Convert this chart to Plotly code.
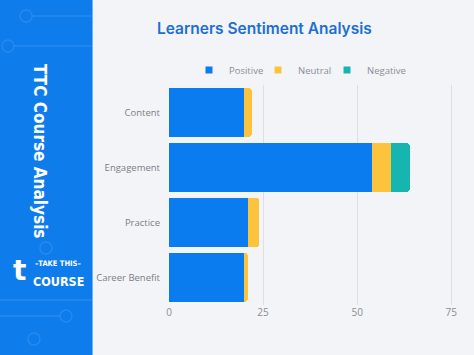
import plotly.graph_objects as go

categories = ["Content", "Engagement", "Practice", "Career Benefit"]
positive = [20, 54, 21, 20]
neutral = [2, 5, 3, 1]
negative = [0, 5, 0, 0]
x_ticks = [0, 25, 50, 75]
series_names = ["Positive", "Neutral", "Negative"]

colors = {"Positive": "#0a7cf0", "Neutral": "#fcc43c", "Negative": "#17b5b0"}

W, H = 474, 355
def px(x):
    return x / W
def py(y):
    return 1 - y / H

fig = go.Figure()
for name, vals in zip(series_names, [positive, neutral, negative]):
    fig.add_trace(go.Bar(
        y=categories, x=vals, name=name, orientation="h",
        marker=dict(color=colors[name], line=dict(width=0)),
        hoverinfo="x+y+name", showlegend=False, legendgroup=name,
    ))
# legend-only entries with small square swatches
for name in series_names:
    fig.add_trace(go.Scatter(
        x=[None], y=[None], mode="markers", name=name, legendgroup=name,
        marker=dict(symbol="square", size=7, color=colors[name]),
        showlegend=True,
    ))
# invisible spacer entry so the last legend label is not clipped
fig.add_trace(go.Scatter(
    x=[None], y=[None], mode="markers", name=" ",
    marker=dict(symbol="square", size=7, color="rgba(0,0,0,0)"),
    showlegend=True, hoverinfo="skip",
))

cond = "DejaVu Sans Condensed"
faint = "rgba(255,255,255,0.10)"
deco = [
    dict(type="circle", xref="paper", yref="paper", x0=px(20), x1=px(32), y0=py(22), y1=py(10),
         line=dict(color=faint, width=1.5)),
    dict(type="line", xref="paper", yref="paper", x0=px(32), x1=px(92), y0=py(16), y1=py(16),
         line=dict(color=faint, width=1.5)),
    dict(type="circle", xref="paper", yref="paper", x0=px(2), x1=px(14), y0=py(52), y1=py(40),
         line=dict(color=faint, width=1.5)),
    dict(type="line", xref="paper", yref="paper", x0=px(14), x1=px(92), y0=py(46), y1=py(46),
         line=dict(color=faint, width=1.5)),
    dict(type="circle", xref="paper", yref="paper", x0=px(40), x1=px(52), y0=py(254), y1=py(242),
         line=dict(color=faint, width=1.5)),
    dict(type="line", xref="paper", yref="paper", x0=px(0), x1=px(92), y0=py(300), y1=py(300),
         line=dict(color=faint, width=1.5)),
    dict(type="circle", xref="paper", yref="paper", x0=px(60), x1=px(72), y0=py(322), y1=py(310),
         line=dict(color=faint, width=1.5)),
    dict(type="line", xref="paper", yref="paper", x0=px(0), x1=px(60), y0=py(316), y1=py(316),
         line=dict(color=faint, width=1.5)),
    dict(type="circle", xref="paper", yref="paper", x0=px(28), x1=px(40), y0=py(345), y1=py(333),
         line=dict(color=faint, width=1.5)),
]

fig.update_layout(
    width=W, height=H,
    barmode="stack", bargap=0.1, barcornerradius=4,
    paper_bgcolor="#f3f4f8", plot_bgcolor="#f3f4f8",
    margin=dict(l=0, r=0, t=0, b=0, autoexpand=False),
    showlegend=True,
    legend=dict(orientation="h", x=px(189), xanchor="left", y=py(70), yanchor="middle",
                font=dict(family="Open Sans", size=9.5, color="#8a8d94"),
                itemwidth=30, entrywidth=24, entrywidthmode="pixels",
                traceorder="normal", bgcolor="rgba(0,0,0,0)"),
    font=dict(family="Open Sans", color="#7b7e85"),
    xaxis=dict(domain=[px(169), px(470)], range=[0, 80], tickvals=x_ticks, showgrid=True,
               gridcolor="#dcdfe5", gridwidth=1, zeroline=False, showline=False, ticks="",
               automargin=False, tickfont=dict(size=10, color="#8a8d94")),
    yaxis=dict(domain=[py(305), py(85)], autorange="reversed", showgrid=False, zeroline=False,
               showline=False, ticks="", automargin=False, ticklabelstandoff=8,
               tickfont=dict(size=9.5, color="#7b7e85")),
    shapes=[
        dict(type="rect", xref="paper", yref="paper", x0=0, x1=px(92),
             y0=0, y1=1, fillcolor="#0f7cec", line=dict(width=0), layer="below"),
        dict(type="line", xref="paper", yref="paper", x0=px(92.5), x1=px(92.5),
             y0=0, y1=1, line=dict(color="#6fb2f6", width=1)),
    ] + deco,
    annotations=[
        dict(text="Learners Sentiment Analysis", xref="paper", yref="paper",
             x=px(264), y=py(28), xanchor="center", yanchor="middle",
             showarrow=False, font=dict(family="Inter", size=15.5, weight=600, color="#1d6fd2")),
        dict(text="TTC Course Analysis", xref="paper", yref="paper",
             x=px(40), y=py(151), xanchor="center", yanchor="middle",
             textangle=90, showarrow=False,
             font=dict(family=cond, size=17, weight="bold", color="white")),
        dict(text="t", xref="paper", yref="paper",
             x=px(19), y=py(270), xanchor="center", yanchor="middle",
             showarrow=False, font=dict(family="DejaVu Sans", size=28, weight="bold", color="white")),
        dict(text="\u2013TAKE THIS\u2013", xref="paper", yref="paper",
             x=px(58), y=py(263), xanchor="center", yanchor="middle",
             showarrow=False, font=dict(family=cond, size=7.5, weight="bold", color="white")),
        dict(text="COURSE", xref="paper", yref="paper",
             x=px(58), y=py(281), xanchor="center", yanchor="middle",
             showarrow=False, font=dict(family=cond, size=12.5, weight="bold", color="white")),
    ],
)

fig.write_html("out.html", config={"displayModeBar": False},
               post_script="document.body.style.margin='0';document.body.style.overflow='hidden';")
